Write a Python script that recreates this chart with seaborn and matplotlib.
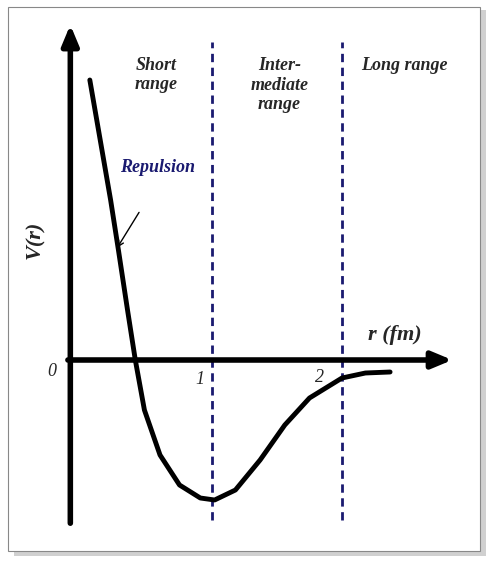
import matplotlib
matplotlib.use('Agg')
import matplotlib.pyplot as plt
import matplotlib.patches as patches
import seaborn as sns

# potential curve (r in fm, V arbitrary units)
r_vals = [0.06, 0.14, 0.22, 0.28, 0.35, 0.41, 0.48, 0.60, 0.75, 0.91, 1.02,
          1.18, 1.37, 1.56, 1.75, 2.00, 2.18, 2.37]
v_vals = [2.80, 2.20, 1.60, 1.10, 0.50, 0.00, -0.50, -0.95, -1.25, -1.38, -1.40,
          -1.30, -1.00, -0.65, -0.38, -0.18, -0.13, -0.12]
region_edges = [1, 2]
tick_labels = ['0', '1', '2']

sns.set_style('white')
plt.rcParams['font.family'] = ['Liberation Serif', 'DejaVu Serif']

fig = plt.figure(figsize=(4.92, 5.63), dpi=100)
ax = fig.add_axes([0, 0, 1, 1])
ax.set_xlim(-0.631, 3.154)
ax.set_ylim(-2.03, 3.6)
ax.axis('off')

# frame with shadow
ax.add_patch(patches.Rectangle((0.028, 0.012), 0.96, 0.97, transform=fig.transFigure,
                               facecolor='#d0d0d0', edgecolor='none', zorder=0))
ax.add_patch(patches.Rectangle((0.016, 0.022), 0.96, 0.965, transform=fig.transFigure,
                               facecolor='white', edgecolor='#888888', lw=0.8, zorder=0.5))

sns.lineplot(x=r_vals, y=v_vals, ax=ax, color='black', lw=3.5, sort=False, zorder=3)

# axes with arrows
ax.annotate('', xy=(-0.09, 3.38), xytext=(-0.09, -1.66),
            arrowprops=dict(arrowstyle='-|>,head_width=0.5,head_length=1.2', color='black', lw=4))
ax.annotate('', xy=(2.87, 0), xytext=(-0.13, 0),
            arrowprops=dict(arrowstyle='-|>,head_width=0.5,head_length=1.2', color='black', lw=4))

for e in region_edges:
    ax.plot([e, e], [-1.6, 3.18], color='#1a1a70', lw=2, ls=(0, (3, 2)), zorder=2)

style = dict(fontstyle='italic', fontweight='bold', fontsize=13)
ax.text(0.57, 2.85, 'Short\nrange', ha='center', va='center', **style)
ax.text(1.52, 2.75, 'Inter-\nmediate\nrange', ha='center', va='center', **style)
ax.text(2.48, 2.95, 'Long range', ha='center', va='center', **style)
ax.text(0.58, 1.93, 'Repulsion', ha='center', va='center', color='#1a1a70', **style)
ax.text(-0.36, 1.2, 'V(r)', rotation=90, ha='center', va='center', fontstyle='italic',
        fontweight='bold', fontsize=16)
ax.text(2.41, 0.25, 'r (fm)', ha='center', va='center', fontstyle='italic',
        fontweight='bold', fontsize=16)
for x, lab, y in zip([-0.23, 0.91, 1.83], tick_labels, [-0.12, -0.2, -0.18]):
    ax.text(x, y, lab, ha='center', va='center', fontstyle='italic', fontsize=13)

ax.annotate('', xy=(0.26, 1.1), xytext=(0.45, 1.5),
            arrowprops=dict(arrowstyle='->', color='black', lw=1))

fig.savefig('out.png', dpi=100)
